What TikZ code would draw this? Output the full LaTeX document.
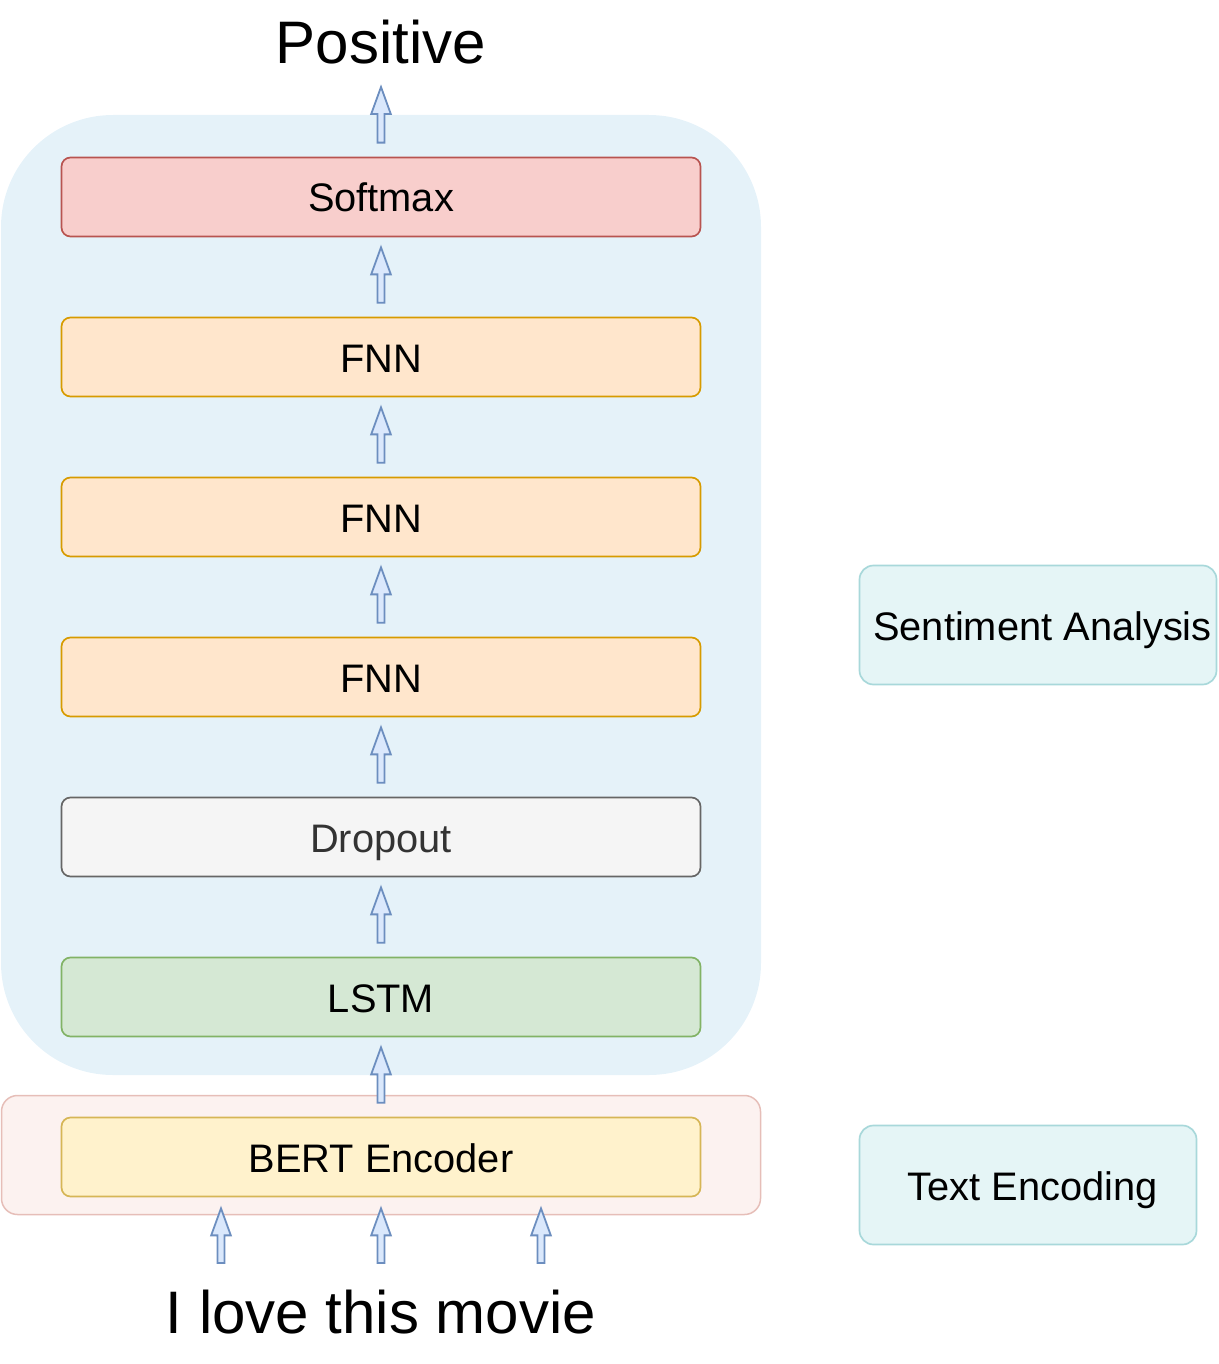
\documentclass[tikz,border=0pt]{standalone}
\usepackage{fontspec}
\setmainfont{Liberation Sans}
\usetikzlibrary{calc}
\definecolor{bgblue}{HTML}{E5F2F9}
\definecolor{pinkf}{HTML}{FCF2F0}
\definecolor{pinkd}{HTML}{E6BEB8}
\definecolor{redf}{HTML}{F8CECC}
\definecolor{redd}{HTML}{B85450}
\definecolor{orgf}{HTML}{FFE6CC}
\definecolor{orgd}{HTML}{D79B00}
\definecolor{grayf}{HTML}{F5F5F5}
\definecolor{grayd}{HTML}{666666}
\definecolor{grnf}{HTML}{D5E8D4}
\definecolor{grnd}{HTML}{82B366}
\definecolor{yelf}{HTML}{FFF2CC}
\definecolor{yeld}{HTML}{D6B656}
\definecolor{tealf}{HTML}{E5F5F6}
\definecolor{teald}{HTML}{A8D8DA}
\definecolor{arrf}{HTML}{DAE8FC}
\definecolor{arrd}{HTML}{6C8EBF}
\begin{document}
\begin{tikzpicture}[x=1pt,y=-1pt,
  layer/.style={draw, line width=1.7pt, rounded corners=9pt, minimum width=639pt, minimum height=79pt, inner sep=0pt, font=\fontsize{39.8}{47}\selectfont, text height=30pt, text depth=0pt},
  side/.style={draw=teald, fill=tealf, line width=1.7pt, rounded corners=14pt, inner sep=0pt, font=\fontsize{39.8}{47}\selectfont, text height=30pt, text depth=0pt},
  big/.style={font=\fontsize{60}{70}\selectfont, inner sep=0pt},
  blk/.style={draw=arrd, fill=arrf, line width=1.8pt, line join=miter,
    to path={let \p1=(\tikztostart), \p2=(\tikztotarget) in
      (\x1-3.5pt,\y1) -- (\x1+3.5pt,\y1) -- (\x1+3.5pt,\y2-27pt) -- (\x1+9.8pt,\y2-27pt)
      -- (\x1,\y2) -- (\x1-9.8pt,\y2-27pt) -- (\x1-3.5pt,\y2-27pt) -- cycle}}
]
\useasboundingbox (0,0) rectangle (1218,1364);

% backgrounds
\node[fill=bgblue, rounded corners=112pt, minimum width=760pt, minimum height=960pt, inner sep=0pt] (bg) at (381,595) {};
\node[draw=pinkd, fill=pinkf, line width=1.5pt, rounded corners=16pt, minimum width=759pt, minimum height=119pt, inner sep=0pt] (enc) at (381,1155) {};

% layers
\node[layer, draw=redd, fill=redf] (softmax) at (381,197) {Softmax};
\node[layer, draw=orgd, fill=orgf] (fnn1) at (381,357) {FNN};
\node[layer, draw=orgd, fill=orgf] (fnn2) at (381,517) {FNN};
\node[layer, draw=orgd, fill=orgf] (fnn3) at (381,677) {FNN};
\node[layer, draw=grayd, fill=grayf, text=black!80] (drop) at (381,837) {Dropout};
\node[layer, draw=grnd, fill=grnf] (lstm) at (381,997) {LSTM};
\node[layer, draw=yeld, fill=yelf] (bert) at (381,1157) {BERT Encoder};

% side labels
\node[side, minimum width=357pt, minimum height=119pt] (sa) at (1038,625) {\hspace*{9pt}Sentiment Analysis};
\node[side, minimum width=337pt, minimum height=119pt] (te) at (1028,1185) {\hspace*{9pt}Text Encoding};

% texts
\node[big] (pos) at (381,42) {Positive};
\node[big] (inp) at (381,1312) {I love this movie};

% arrows
\coordinate (postip) at (381,87);
\draw[blk] ([yshift=14pt]softmax.north) to (postip);
\draw[blk] ([yshift=14pt]fnn1.north) to ([yshift=-10pt]softmax.south);
\draw[blk] ([yshift=14pt]fnn2.north) to ([yshift=-10pt]fnn1.south);
\draw[blk] ([yshift=14pt]fnn3.north) to ([yshift=-10pt]fnn2.south);
\draw[blk] ([yshift=14pt]drop.north) to ([yshift=-10pt]fnn3.south);
\draw[blk] ([yshift=14pt]lstm.north) to ([yshift=-10pt]drop.south);
\draw[blk] ([yshift=14pt]bert.north) to ([yshift=-10pt]lstm.south);

\coordinate (w1) at (221,1263);
\coordinate (w2) at (381,1263);
\coordinate (w3) at (541,1263);
\draw[blk] (w1) to ([xshift=-160pt,yshift=-11pt]bert.south);
\draw[blk] (w2) to ([yshift=-11pt]bert.south);
\draw[blk] (w3) to ([xshift=160pt,yshift=-11pt]bert.south);
\end{tikzpicture}
\end{document}
